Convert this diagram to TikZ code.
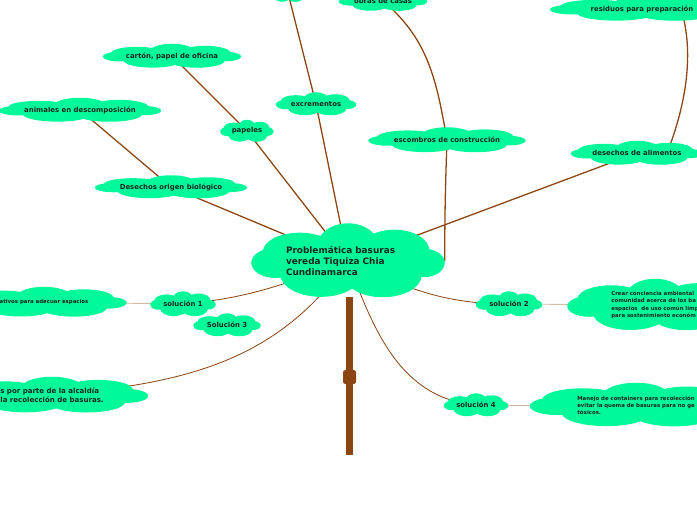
\documentclass[tikz,border=0pt]{standalone}
\usepackage{fontspec}
\setmainfont{DejaVu Sans}
\usetikzlibrary{backgrounds, calc}
\definecolor{leaf}{RGB}{0, 250, 154}
\definecolor{bark}{RGB}{139, 69, 19}
\definecolor{ink}{RGB}{20, 40, 30}
\definecolor{twig}{RGB}{214, 186, 166}

\begin{document}
\begin{tikzpicture}[x=0.3mm, y=-0.3mm,
  blob/.style={inner sep=0pt, text=ink, font=\bfseries\fontsize{5.9}{7}\selectfont},
  fine/.style={font=\bfseries\fontsize{4.6}{6}\selectfont},
  sz/.style 2 args={minimum width=#1*0.3mm, minimum height=#2*0.3mm},
  branch/.style={bark, line width=1.1pt},
  shoot/.style={bark, line width=0.7pt},
  sprig/.style={twig, line width=0.8pt}]

  \useasboundingbox (0, 0) rectangle (697, 520);

  \node[blob, sz={193}{75}, text width=124*0.3mm, align=left,
        font=\bfseries\fontsize{7.6}{9.4}\selectfont] (core) at (348, 261)
    {Problemática basuras\\vereda Tiquiza Chia\\Cundinamarca};

  % upper branches
  \node[blob, sz={40}{18}] (heces) at (288, -7) {};
  \node[blob, sz={88}{20}] (obras) at (383, 1) {obras de casas};
  \node[blob, sz={184}{24}] (resid) at (642, 9) {residuos para preparación};
  \node[blob, sz={132}{24}] (aliment) at (637, 153) {desechos de alimentos};
  \node[blob, sz={157}{25}] (escomb) at (447, 140) {escombros de construcción};
  \node[blob, sz={80}{23}] (excr) at (316, 104) {excrementos};
  \node[blob, sz={53}{22}] (papel) at (247, 131) {papeles};
  \node[blob, sz={138}{24}] (carton) at (172, 56) {cartón, papel de oficina};
  \node[blob, sz={162}{24}] (anim) at (80, 110) {animales en descomposición};
  \node[blob, sz={152}{23}] (biolog) at (171, 187) {Desechos origen biológico};
  \coordinate (resid root) at (683, 16);

  % solutions
  \node[blob, sz={65}{25}] (sol1) at (183, 304) {solución 1};
  \node[blob, sz={67}{23}] (sol3) at (227, 325) {Solución 3};
  \node[blob, sz={66}{25}] (sol2) at (509, 304) {solución 2};
  \node[blob, sz={64}{23}] (sol4) at (476, 405) {solución 4};
  \node[blob, fine, sz={165}{30}] (espac) at (44, 302) {ativos para adecuar espacios};
  \node[blob, sz={192}{36}, align=left, font=\bfseries\fontsize{6}{8}\selectfont] (alcal) at (52, 395)
    {s por parte de la alcaldía\\la recolección de basuras.};
  \node[blob, fine, sz={175}{52}, align=left] (concien) at (655, 305)
    {Crear conciencia ambiental\\comunidad acerca de los ba\\espacios~ de uso común limp\\para sostenimiento económ};
  \node[blob, fine, sz={212}{44}, align=left] (contain) at (636, 405)
    {Manejo de containers para recolección\\evitar la quema de basuras para no ge\\tóxicos.};

  \begin{scope}[on background layer]
    \draw[branch] (heces.center) -- (excr.center);
    \draw[branch] (excr.center) -- (core.center);
    \draw[branch] (carton.center) -- (papel.center);
    \draw[branch] (papel.center) -- (core.center);
    \draw[branch] (anim.center) -- (biolog.center);
    \draw[branch] (biolog.center) -- (core.center);
    \draw[branch] (obras.center) to[out=-40, in=100] (escomb.center);
    \draw[branch] (escomb.center) to[out=-92, in=90] (core.east);
    \draw[branch] (resid root) .. controls (694, 60) and (684, 110) .. ($(aliment.center)+(30, 0)$);
    \draw[branch] (aliment.center) -- (core.center);

    \draw[shoot] (core.center) to[out=-160, in=5] (sol1.center);
    \draw[sprig] (sol1.center) -- (espac.center);
    \draw[shoot] (core.center) to[out=-125, in=5] (alcal.center);
    \draw[shoot] (core.center) to[out=-25, in=180] (sol2.center);
    \draw[sprig] (sol2.center) -- (concien.center);
    \draw[shoot] (core.center) to[out=-70, in=175] (sol4.center);
    \draw[sprig] (sol4.center) -- (contain.center);

    % trunk
    \fill[bark] (346, 297) rectangle (353, 455);
    \fill[bark, rounded corners=2] (343, 370) rectangle (356, 384);

    % clouds behind every label
    \foreach \b in {core, heces, obras, resid, aliment, escomb, excr, papel, carton, anim,
                    biolog, sol1, sol3, sol2, sol4, espac, alcal, concien, contain} {
      \begin{scope}[shift={(\b.center)}]
        \fill[leaf] let \p1 = (\b.south west), \p2 = (\b.north east),
                        \n1 = {(\x2-\x1)/2}, \n2 = {(\y2-\y1)/2} in
          (0, 0) ellipse [x radius=\n1, y radius=0.4*\n2]
          (-0.5*\n1, 0.25*\n2) ellipse [x radius=0.38*\n1, y radius=0.5*\n2]
          (0, 0.38*\n2) ellipse [x radius=0.32*\n1, y radius=0.62*\n2]
          (0.48*\n1, 0.28*\n2) ellipse [x radius=0.36*\n1, y radius=0.55*\n2]
          (-0.28*\n1, -0.35*\n2) ellipse [x radius=0.42*\n1, y radius=0.6*\n2]
          (0.36*\n1, -0.38*\n2) ellipse [x radius=0.4*\n1, y radius=0.58*\n2]
          (-0.75*\n1, -0.05*\n2) ellipse [x radius=0.25*\n1, y radius=0.4*\n2]
          (0.78*\n1, -0.05*\n2) ellipse [x radius=0.22*\n1, y radius=0.38*\n2];
      \end{scope}
    }
  \end{scope}

\end{tikzpicture}
\end{document}
